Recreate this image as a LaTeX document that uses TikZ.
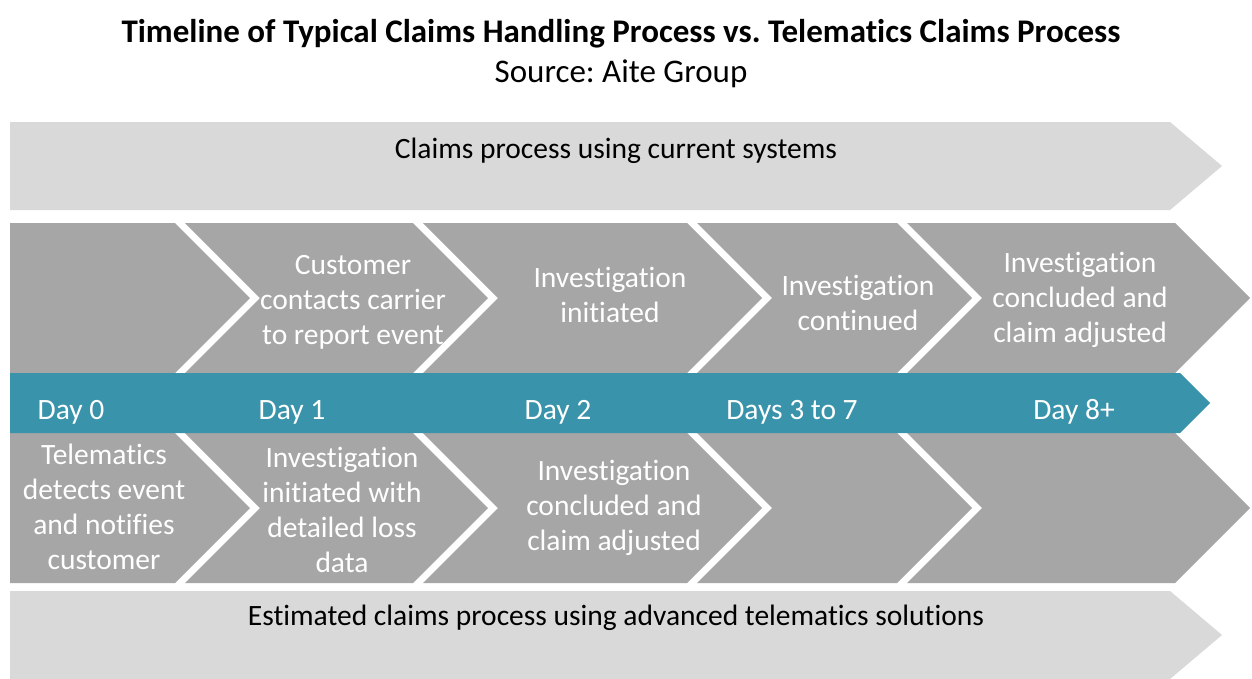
\documentclass[tikz,border=0pt]{standalone}
\usepackage{fontspec}
\setmainfont[Ligatures=NoCommon]{Carlito}
\usepackage{tikz}
\usetikzlibrary{calc}
\frenchspacing
\definecolor{bandlight}{RGB}{217,217,217}
\definecolor{bandgray}{RGB}{166,166,166}
\definecolor{bandteal}{RGB}{57,147,171}
\tikzset{
  % Sarlavha
  titletxt/.style = {font=\fontsize{33}{40}\selectfont\bfseries, inner sep=0pt},
  srctxt/.style   = {font=\fontsize{33}{40}\selectfont, inner sep=0pt},
  % Lentalar
  bandA/.style    = {fill=bandlight},
  bandB/.style    = {fill=bandgray},
  bandC/.style    = {fill=bandteal},
  % Matnlar
  bandtxt/.style  = {font=\fontsize{29.5}{35}\selectfont, inner sep=0pt, black},
  celltxt/.style  = {font=\fontsize{29.5}{35}\selectfont, inner sep=0pt, white, align=center},
  daytxt/.style   = {font=\fontsize{29.5}{35}\selectfont, inner sep=0pt, white},
}
\begin{document}
\begin{tikzpicture}[x=1pt, y=-1pt]
  \fill[white] (0,0) rectangle (1252,678);
  \useasboundingbox (0,0) rectangle (1252,678);
  % Sarlavha
  \node[titletxt] (title) at (621,34) {Timeline of Typical Claims Handling Process vs. Telematics Claims Process};
  \node[srctxt] (src) at (621,74) {Source: Aite Group};
  % Ochiq lentalar
  \fill[bandA] (10,122) -- (1170,122) -- (1222,166) -- (1170,210) -- (10,210) -- cycle;
  \fill[bandA] (10,591) -- (1170,591) -- (1222,635) -- (1170,679) -- (10,679) -- cycle;
  % Kulrang strelkalar (ikki qator)
  \foreach \t in {223,433}{
    \foreach \l/\r/\n in {10/175/0, 185/413/75, 423/687/75, 697/897/75, 907/1175/75}{
      \fill[bandB] (\l,\t) -- (\r,\t) -- ({\r+75},{\t+75}) -- (\r,{\t+150})
        -- (\l,{\t+150}) -- ({\l+\n},{\t+75}) -- cycle;
    }
  }
  % Kunlar lentasi
  \fill[bandC] (10,373) -- (1180,373) -- (1210,403) -- (1180,433) -- (10,433) -- cycle;
  % Lenta matnlari
  \node[bandtxt] (cur) at (616,151) {Claims process using current systems};
  \node[bandtxt] (est) at (616,618) {Estimated claims process using advanced telematics solutions};
  % Kunlar
  \node[daytxt] (d0) at (71,412) {Day 0};
  \node[daytxt] (d1) at (292,412) {Day 1};
  \node[daytxt] (d2) at (558,412) {Day 2};
  \node[daytxt] (d3) at (792,412) {Days 3 to 7};
  \node[daytxt] (d8) at (1074,412) {Day 8+};
  % Yuqori qator
  \node[celltxt] (cur2) at (353,302) {Customer\\contacts carrier\\to report event};
  \node[celltxt] (cur3) at (610,295) {Investigation\\initiated};
  \node[celltxt] (cur4) at (858,303) {Investigation\\continued};
  \node[celltxt] (cur5) at (1080,300) {Investigation\\concluded and\\claim adjusted};
  % Pastki qator
  \node[celltxt] (tel1) at (104,507) {Telematics\\detects event\\and notifies\\customer};
  \node[celltxt] (tel2) at (342,510) {Investigation\\initiated with\\detailed loss\\data};
  \node[celltxt] (tel3) at (614,508) {Investigation\\concluded and\\claim adjusted};
\end{tikzpicture}
\end{document}
